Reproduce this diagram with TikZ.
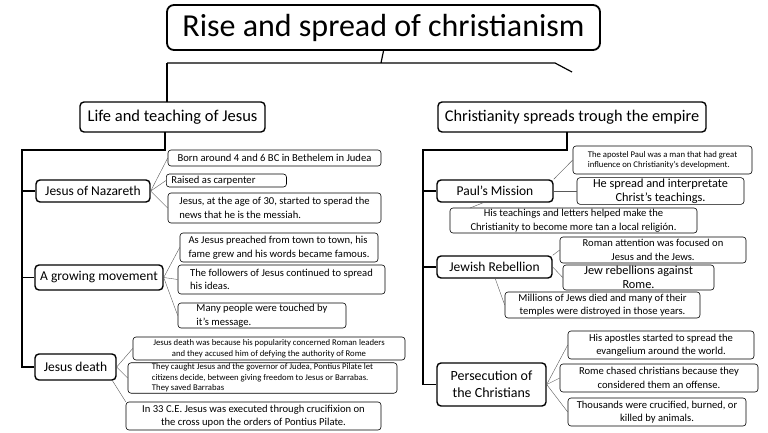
\documentclass[tikz,border=0pt]{standalone}
\usepackage{fontspec}
\setmainfont{Carlito}
\begin{document}
\begin{tikzpicture}[x=1pt,y=-1pt,
 leaf/.style={draw, rounded corners=3pt, line width=0.6pt, inner sep=1pt, align=center, font=\fontsize{10.6}{13.5}\selectfont},
 small/.style={leaf, font=\fontsize{8.7}{10.5}\selectfont},
 mainn/.style={draw, rounded corners=4pt, line width=1.4pt, inner sep=1pt, align=center, font=\fontsize{13.5}{16.5}\selectfont},
 spine/.style={line width=1.8pt},
 link/.style={line width=0.4pt, draw=black!65}]
\useasboundingbox (0,0) rectangle (768,433);
\node[draw, rounded corners=7pt, line width=1.8pt, minimum width=433pt, minimum height=45pt, font=\fontsize{32}{36}\selectfont] (title) at (383.5,27.5) {Rise and spread of christianism};
\node[mainn, minimum width=185pt, minimum height=30pt, font=\fontsize{16.5}{19}\selectfont] (life) at (172.5,117) {Life and teaching of Jesus};
\node[mainn, minimum width=268pt, minimum height=30pt, font=\fontsize{16.3}{19}\selectfont] (chr) at (572,117) {Christianity spreads trough the empire};
\coordinate (t1) at (381,63);
\coordinate (tl) at (167,63);
\coordinate (tr) at (555,63);
\draw[line width=1.2pt] (title.south) -- (t1) (tl) -- (tr) -- (572,72);
\draw[line width=1.2pt] (tl) -- (167,102);
% left spine
\node[mainn, minimum width=114pt, minimum height=22pt] (naz) at (93,191) {Jesus of Nazareth};
\node[mainn, minimum width=128pt, minimum height=25pt] (grow) at (99,277.5) {A growing movement};
\node[mainn, minimum width=81pt, minimum height=26pt] (death) at (75.5,367) {Jesus death};
\draw[spine] (165,132) -- (165,150) -- (22,150) -- (22,367) -- (death.west);
\draw[spine] (22,191) -- (naz.west);
\draw[spine] (22,277.5) -- (grow.west);
% right spine
\node[mainn, minimum width=116pt, minimum height=22pt] (paul) at (495,191) {Paul's Mission};
\node[mainn, minimum width=115pt, minimum height=22pt] (jew) at (494.5,267) {Jewish Rebellion};
\node[mainn, minimum width=109pt, minimum height=43pt, font=\fontsize{14}{17}\selectfont] (pers) at (491.5,384.5) {Persecution of\\the Christians};
\draw[spine] (567,132) -- (567,150) -- (423,150) -- (423,384.5) -- (pers.west);
\draw[spine] (423,191) -- (paul.west);
\draw[spine] (423,267) -- (jew.west);
% left leaves
\node[leaf, minimum width=213pt, minimum height=16pt] (l1) at (274.5,158) {Born around 4 and 6 BC in Bethelem in Judea};
\node[leaf, minimum width=109pt, minimum height=13pt, align=left, anchor=west] (l2) at (166,180.5) {\hspace{4pt}Raised as carpenter\hspace{30pt}};
\node[leaf, minimum width=213pt, minimum height=30pt, align=left] (l3) at (274.5,208) {Jesus, at the age of 30, started to sperad the\\news that he is the messiah.\hspace{70pt}};
\node[leaf, minimum width=198pt, minimum height=29pt, align=left] (l4) at (279,247.5) {As Jesus preached from town to town, his\\fame grew and his words became famous.};
\node[leaf, minimum width=207pt, minimum height=29pt, align=left] (l5) at (281.5,279.5) {The followers of Jesus continued to spread\\his ideas.\hspace{150pt}};
\node[leaf, minimum width=168pt, minimum height=25pt, align=left] (l6) at (262,315.5) {Many people were touched by\hspace{20pt}\\it’s message.};
\node[small, minimum width=272pt, minimum height=23pt] (l7) at (269,348.5) {Jesus death was because his popularity concerned Roman leaders\\and they accused him of defying the authority of Rome};
\node[small, minimum width=269pt, minimum height=30pt, align=left] (l8) at (262.5,378) {They caught Jesus and the governor of Judea, Pontius Pilate let\\citizens decide, between giving freedom to Jesus or Barrabas.\\They saved Barrabas};
\node[leaf, minimum width=255pt, minimum height=28pt] (l9) at (253.5,416) {In 33 C.E. Jesus was executed through crucifixion on\\the cross upon the orders of Pontius Pilate.};
\foreach \l in {l1,l2,l3} \draw[link] (naz.east) -- (\l.west);
\foreach \l in {l4,l5,l6} \draw[link] (grow.east) -- (\l.west);
\draw[link] (death.east) -- (l7.west);
\draw[link] (death.east) -- (l8.west);
\draw[link] (112,380) -- (l9.north west);
% right leaves
\node[small, minimum width=179pt, minimum height=28pt, align=left] (r1) at (662.5,160) {The apostel Paul was a man that had great\\influence on Christianity’s development.};
\node[leaf, minimum width=167pt, minimum height=26pt, font=\fontsize{12.3}{14}\selectfont] (r2) at (660.5,191) {He spread and interpretate\\Christ’s teachings.};
\node[leaf, minimum width=247pt, minimum height=25pt] (r3) at (573.5,220.5) {His teachings and letters helped make the\\Christianity to become more tan a local religión.};
\node[leaf, minimum width=186pt, minimum height=26pt] (r4) at (653,250) {Roman attention was focused on\\Jesus and the Jews.};
\node[leaf, minimum width=151pt, minimum height=25pt, font=\fontsize{12.3}{14}\selectfont] (r5) at (638.5,277.5) {Jew rebellions against\\Rome.};
\node[leaf, minimum width=195pt, minimum height=26pt] (r6) at (602.5,305) {Millions of Jews died and many of their\\temples were distroyed in those years.};
\node[leaf, minimum width=186pt, minimum height=28pt] (r7) at (661,345) {His apostles started to spread the\\evangelium around the world.};
\node[leaf, minimum width=198pt, minimum height=28pt] (r8) at (659,378) {Rome chased christians because they\\considered them an offense.};
\node[leaf, minimum width=178pt, minimum height=28pt] (r9) at (657,412) {Thousands were crucified, burned, or\\killed by animals.};
\draw[link] (paul.north east) -- (r1.west);
\draw[link] (paul.east) -- (r2.west);
\draw[link] (485,202) -- (470,208);
\draw[link] (jew.north east) -- (r4.west);
\draw[link] (jew.east) -- (r5.west);
\draw[link] (495,278) -- (r6.west);
\foreach \l in {r7,r8,r9} \draw[link] (pers.east) -- (\l.west);
\end{tikzpicture}
\end{document}
